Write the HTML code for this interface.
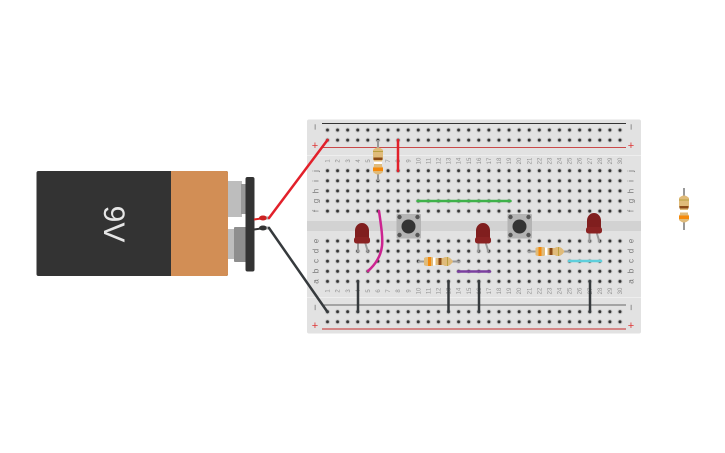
<!DOCTYPE html>
<html><head><meta charset="utf-8"><style>
html,body{margin:0;padding:0;background:#fff;width:725px;height:453px;overflow:hidden}
svg{display:block}
.n{font:6px "Liberation Sans",sans-serif;fill:#929292;text-anchor:middle}
.l{font:8px "Liberation Sans",sans-serif;fill:#777;text-anchor:middle}
.s{font:11px "Liberation Sans",sans-serif;text-anchor:middle}
</style></head><body>
<svg width="725" height="453" viewBox="0 0 725 453" xmlns="http://www.w3.org/2000/svg">
<defs>
<pattern id="h" patternUnits="userSpaceOnUse" x="322.45" y="125" width="10.086" height="10.09">
<circle cx="5.04" cy="5.04" r="2.6" fill="#cdcdcd"/><circle cx="5.04" cy="5.04" r="1.5" fill="#333"/>
</pattern>
<pattern id="h2" patternUnits="userSpaceOnUse" x="322.45" y="165.7" width="10.086" height="10.09">
<circle cx="5.04" cy="5.04" r="2.6" fill="#cdcdcd"/><circle cx="5.04" cy="5.04" r="1.5" fill="#333"/>
</pattern>
<pattern id="h3" patternUnits="userSpaceOnUse" x="322.45" y="236" width="10.086" height="10.09">
<circle cx="5.04" cy="5.04" r="2.6" fill="#cdcdcd"/><circle cx="5.04" cy="5.04" r="1.5" fill="#333"/>
</pattern>
<pattern id="h4" patternUnits="userSpaceOnUse" x="322.45" y="306.7" width="10.086" height="10.09">
<circle cx="5.04" cy="5.04" r="2.6" fill="#cdcdcd"/><circle cx="5.04" cy="5.04" r="1.5" fill="#333"/>
</pattern>
</defs>

<!-- breadboard -->
<rect x="307" y="119.500" width="334" height="214" rx="2" fill="#e2e2e2"/>
<rect x="307" y="221" width="334" height="10" fill="#d2d2d2"/>
<rect x="307" y="155" width="334" height="1" fill="#eeeeee"/>
<rect x="307" y="297" width="334" height="1" fill="#eeeeee"/>
<rect x="322.450" y="125" width="302.600" height="20.200" fill="url(#h)"/>
<rect x="322.450" y="165.700" width="302.600" height="50.400" fill="url(#h2)"/>
<rect x="322.450" y="236" width="302.600" height="50.400" fill="url(#h3)"/>
<rect x="322.450" y="306.700" width="302.600" height="20.200" fill="url(#h4)"/>
<rect x="322" y="123" width="304" height="1" fill="#333"/>
<rect x="322" y="147" width="304" height="1" fill="#c94a4a"/>
<rect x="322" y="304.500" width="304" height="1" fill="#666"/>
<rect x="322" y="328.500" width="304" height="1" fill="#c62828"/>
<text class="s" fill="#777" transform="translate(315,127) rotate(90) translate(0,3.500)">−</text>
<text class="s" x="315" y="149" fill="#d33">+</text>
<text class="s" fill="#777" transform="translate(631,127) rotate(90) translate(0,3.500)">−</text>
<text class="s" x="631" y="149" fill="#d33">+</text>
<text class="s" fill="#777" transform="translate(315,307.500) rotate(90) translate(0,3.500)">−</text>
<text class="s" x="315" y="329" fill="#d33">+</text>
<text class="s" fill="#777" transform="translate(631,307.500) rotate(90) translate(0,3.500)">−</text>
<text class="s" x="631" y="329" fill="#d33">+</text>

<!-- column numbers top -->
<g class="n">
<text class="n" transform="translate(329.6,161) rotate(-90)">1</text>
<text class="n" transform="translate(339.7,161) rotate(-90)">2</text>
<text class="n" transform="translate(349.8,161) rotate(-90)">3</text>
<text class="n" transform="translate(359.9,161) rotate(-90)">4</text>
<text class="n" transform="translate(369.9,161) rotate(-90)">5</text>
<text class="n" transform="translate(380,161) rotate(-90)">6</text>
<text class="n" transform="translate(390.1,161) rotate(-90)">7</text>
<text class="n" transform="translate(400.2,161) rotate(-90)">8</text>
<text class="n" transform="translate(410.3,161) rotate(-90)">9</text>
<text class="n" transform="translate(420.4,161) rotate(-90)">10</text>
<text class="n" transform="translate(430.5,161) rotate(-90)">11</text>
<text class="n" transform="translate(440.5,161) rotate(-90)">12</text>
<text class="n" transform="translate(450.6,161) rotate(-90)">13</text>
<text class="n" transform="translate(460.7,161) rotate(-90)">14</text>
<text class="n" transform="translate(470.8,161) rotate(-90)">15</text>
<text class="n" transform="translate(480.9,161) rotate(-90)">16</text>
<text class="n" transform="translate(491,161) rotate(-90)">17</text>
<text class="n" transform="translate(501.1,161) rotate(-90)">18</text>
<text class="n" transform="translate(511.1,161) rotate(-90)">19</text>
<text class="n" transform="translate(521.2,161) rotate(-90)">20</text>
<text class="n" transform="translate(531.3,161) rotate(-90)">21</text>
<text class="n" transform="translate(541.4,161) rotate(-90)">22</text>
<text class="n" transform="translate(551.5,161) rotate(-90)">23</text>
<text class="n" transform="translate(561.6,161) rotate(-90)">24</text>
<text class="n" transform="translate(571.7,161) rotate(-90)">25</text>
<text class="n" transform="translate(581.7,161) rotate(-90)">26</text>
<text class="n" transform="translate(591.8,161) rotate(-90)">27</text>
<text class="n" transform="translate(601.9,161) rotate(-90)">28</text>
<text class="n" transform="translate(612,161) rotate(-90)">29</text>
<text class="n" transform="translate(622.1,161) rotate(-90)">30</text>
</g>
<!-- column numbers bottom -->
<g class="n">
<text class="n" transform="translate(329.6,291) rotate(-90)">1</text>
<text class="n" transform="translate(339.7,291) rotate(-90)">2</text>
<text class="n" transform="translate(349.8,291) rotate(-90)">3</text>
<text class="n" transform="translate(359.9,291) rotate(-90)">4</text>
<text class="n" transform="translate(369.9,291) rotate(-90)">5</text>
<text class="n" transform="translate(380,291) rotate(-90)">6</text>
<text class="n" transform="translate(390.1,291) rotate(-90)">7</text>
<text class="n" transform="translate(400.2,291) rotate(-90)">8</text>
<text class="n" transform="translate(410.3,291) rotate(-90)">9</text>
<text class="n" transform="translate(420.4,291) rotate(-90)">10</text>
<text class="n" transform="translate(430.5,291) rotate(-90)">11</text>
<text class="n" transform="translate(440.5,291) rotate(-90)">12</text>
<text class="n" transform="translate(450.6,291) rotate(-90)">13</text>
<text class="n" transform="translate(460.7,291) rotate(-90)">14</text>
<text class="n" transform="translate(470.8,291) rotate(-90)">15</text>
<text class="n" transform="translate(480.9,291) rotate(-90)">16</text>
<text class="n" transform="translate(491,291) rotate(-90)">17</text>
<text class="n" transform="translate(501.1,291) rotate(-90)">18</text>
<text class="n" transform="translate(511.1,291) rotate(-90)">19</text>
<text class="n" transform="translate(521.2,291) rotate(-90)">20</text>
<text class="n" transform="translate(531.3,291) rotate(-90)">21</text>
<text class="n" transform="translate(541.4,291) rotate(-90)">22</text>
<text class="n" transform="translate(551.5,291) rotate(-90)">23</text>
<text class="n" transform="translate(561.6,291) rotate(-90)">24</text>
<text class="n" transform="translate(571.7,291) rotate(-90)">25</text>
<text class="n" transform="translate(581.7,291) rotate(-90)">26</text>
<text class="n" transform="translate(591.8,291) rotate(-90)">27</text>
<text class="n" transform="translate(601.9,291) rotate(-90)">28</text>
<text class="n" transform="translate(612,291) rotate(-90)">29</text>
<text class="n" transform="translate(622.1,291) rotate(-90)">30</text>
</g>
<!-- row letters -->
<text class="l" transform="translate(318.500,171) rotate(-90)">j</text>
<text class="l" transform="translate(318.500,181) rotate(-90)">i</text>
<text class="l" transform="translate(318.500,191) rotate(-90)">h</text>
<text class="l" transform="translate(318.500,201) rotate(-90)">g</text>
<text class="l" transform="translate(318.500,211) rotate(-90)">f</text>
<text class="l" transform="translate(318.500,241) rotate(-90)">e</text>
<text class="l" transform="translate(318.500,251) rotate(-90)">d</text>
<text class="l" transform="translate(318.500,261) rotate(-90)">c</text>
<text class="l" transform="translate(318.500,271) rotate(-90)">b</text>
<text class="l" transform="translate(318.500,281.500) rotate(-90)">a</text>
<text class="l" transform="translate(633.500,171) rotate(-90)">j</text>
<text class="l" transform="translate(633.500,181) rotate(-90)">i</text>
<text class="l" transform="translate(633.500,191) rotate(-90)">h</text>
<text class="l" transform="translate(633.500,201) rotate(-90)">g</text>
<text class="l" transform="translate(633.500,211) rotate(-90)">f</text>
<text class="l" transform="translate(633.500,241) rotate(-90)">e</text>
<text class="l" transform="translate(633.500,251) rotate(-90)">d</text>
<text class="l" transform="translate(633.500,261) rotate(-90)">c</text>
<text class="l" transform="translate(633.500,271) rotate(-90)">b</text>
<text class="l" transform="translate(633.500,281.500) rotate(-90)">a</text>

<!-- battery -->
<rect x="228" y="181" width="14" height="36" fill="#bdbdbd"/>
<rect x="241" y="184" width="6" height="30" fill="#999"/>
<rect x="228" y="229" width="8" height="30" fill="#bdbdbd"/>
<rect x="234" y="227" width="13" height="35" rx="1" fill="#8e8e8e"/>
<rect x="36.500" y="171" width="191.500" height="105" rx="2" fill="#333"/>
<path d="M171 171H226a2 2 0 0 1 2 2V274a2 2 0 0 1-2 2H171Z" fill="#d28e55"/>
<text transform="translate(104,224) rotate(90)" font-family="Liberation Sans,sans-serif" fill="#e6e6e6" text-anchor="middle" style="font-size:30px">9V</text>
<rect x="245.500" y="177" width="9" height="94.500" rx="2" fill="#333"/>

<!-- battery leads -->
<path d="M254 219.500L268 217.500" stroke="#d22" stroke-width="2" fill="none"/>
<ellipse cx="263" cy="218" rx="4" ry="2.500" fill="#c22"/>
<path d="M254 229.500L268 227.500" stroke="#333" stroke-width="2" fill="none"/>
<ellipse cx="263" cy="228" rx="4" ry="2.500" fill="#333"/>
<rect x="266.500" y="216.500" width="3" height="3" fill="#aaa"/>
<rect x="266.500" y="226.500" width="3" height="3" fill="#aaa"/>
<g fill="none" stroke-linecap="round">
<path d="M269 218L327.500 140" stroke="#e2202a" stroke-width="2.500"/>
<path d="M269 228L327.500 312" stroke="#363a3d" stroke-width="2.500"/>

<!-- jumpers -->
<path d="M398 140V171" stroke="#e2202a" stroke-width="2.500"/>
<path d="M417.500 201H510.500" stroke="#3fb24a" stroke-width="2.500"/>
<path d="M458 271.500H490" stroke="#7b3fa0" stroke-width="2.500"/>
<path d="M569 261H601" stroke="#5fcfdc" stroke-width="2.500"/>
<path d="M358 281V312M448.500 281V312M479 281V312M590 281V312" stroke="#363a3d" stroke-width="2.500"/>
</g>

<!-- buttons -->
<g>
<rect x="396.500" y="214" width="24.500" height="24.500" rx="1" fill="#b4b4b4"/>
<circle cx="408.500" cy="226.500" r="7" fill="#333"/>
<circle cx="399.500" cy="217" r="2.200" fill="#555"/><circle cx="417.500" cy="217" r="2.200" fill="#555"/>
<circle cx="399.500" cy="235" r="2.200" fill="#555"/><circle cx="417.500" cy="235" r="2.200" fill="#555"/>
</g>
<g>
<rect x="507.500" y="214" width="24.500" height="24.500" rx="1" fill="#b4b4b4"/>
<circle cx="519.500" cy="226.500" r="7" fill="#333"/>
<circle cx="510.500" cy="217" r="2.200" fill="#555"/><circle cx="528.500" cy="217" r="2.200" fill="#555"/>
<circle cx="510.500" cy="235" r="2.200" fill="#555"/><circle cx="528.500" cy="235" r="2.200" fill="#555"/>
</g>

<!-- magenta wire -->
<path d="M379 211C381 225 383 238 382 246C381 256 375 265 368 271" fill="none" stroke="#cc2490" stroke-width="2.500" stroke-linecap="round"/>

<!-- LEDs -->
<g fill="none" stroke="#9a9a9a" stroke-width="2">
<path d="M358 242V252M365 242L368 252"/>
<path d="M478.500 242V252M485.500 242L488.500 252"/>
<path d="M589.500 232V242M596.500 232L599.500 242"/>
</g>
<path d="M355 238V230.500a7 7.500 0 0 1 14 0V238Z" fill="#801e1e"/><rect x="354" y="237" width="16" height="6.500" rx="2.500" fill="#8a2323"/>
<path d="M476 238V230.500a7 7.500 0 0 1 14 0V238Z" fill="#801e1e"/><rect x="475" y="237" width="16" height="6.500" rx="2.500" fill="#8a2323"/>
<path d="M587 228V220.500a7 7.500 0 0 1 14 0V228Z" fill="#801e1e"/><rect x="586" y="227" width="16" height="6.500" rx="2.500" fill="#8a2323"/>

<!-- vertical resistor (board) -->
<g>
<rect x="377" y="140" width="2" height="41" fill="#999"/>
<path d="M373 150Q378 145 383 150V159L382 161V166L383 168V172Q378 177 373 172V168L374 166V161L373 159Z" fill="#e0bb7a"/>
<rect x="373" y="151" width="10" height="1" fill="#b9a040"/>
<rect x="373.500" y="157.500" width="9" height="2.500" fill="#8b4a17"/>
<rect x="374" y="161.500" width="8" height="2.500" fill="#fff"/>
<rect x="373" y="167.500" width="10" height="3.500" fill="#f58a0c"/>
</g>
<!-- horizontal resistor 1 -->
<g>
<rect x="418" y="260.500" width="42" height="2" fill="#999"/>
<path d="M424 258Q425 257 428 257H432L434 258H443L445 257H448Q451 258 453 261.500Q451 265 448 266H445L443 265H434L432 266H428Q425 266 424 265Z" fill="#e0bb7a"/>
<rect x="428" y="257" width="3" height="9" fill="#f58a0c"/>
<rect x="433" y="257.500" width="2.500" height="8" fill="#fff"/>
<rect x="438.500" y="258" width="3" height="7" fill="#8b4a17"/>
<rect x="447" y="257" width="1" height="9" fill="#b9a040"/>
</g>
<!-- horizontal resistor 2 -->
<g>
<rect x="528" y="250.500" width="42" height="2" fill="#999"/>
<path d="M535.500 248Q536.500 247 539.500 247H543.500L545.500 248H554.500L556.500 247H559.500Q562.500 248 564.500 251.500Q562.500 255 559.500 256H556.500L554.500 255H545.500L543.500 256H539.500Q536.500 256 535.500 255Z" fill="#e0bb7a"/>
<rect x="538.500" y="247" width="3" height="9" fill="#f58a0c"/>
<rect x="545" y="247.500" width="2.500" height="8" fill="#fff"/>
<rect x="549.500" y="248" width="3" height="7" fill="#8b4a17"/>
<rect x="558" y="247" width="1" height="9" fill="#b9a040"/>
</g>
<!-- loose resistor -->
<g>
<rect x="683" y="188" width="2" height="42" fill="#999"/>
<path d="M679 198Q684 193 689 198V207L688 209V214L689 216V220Q684 225 679 220V216L680 214V209L679 207Z" fill="#e0bb7a"/>
<rect x="679" y="199.500" width="10" height="1" fill="#b9a040"/>
<rect x="679.500" y="206" width="9" height="2.500" fill="#8b4a17"/>
<rect x="680" y="210" width="8" height="2.500" fill="#fff"/>
<rect x="679" y="215.500" width="10" height="3.500" fill="#f58a0c"/>
</g>
</svg>
</body></html>
